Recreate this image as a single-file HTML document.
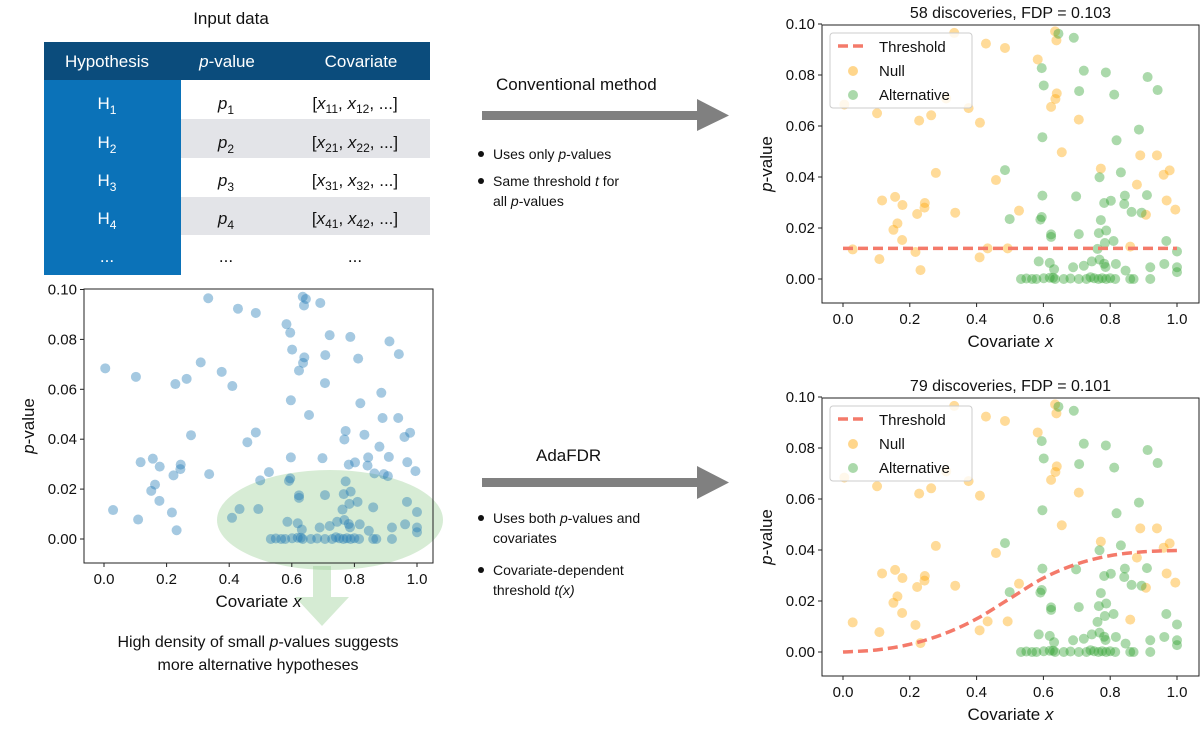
<!DOCTYPE html>
<html><head><meta charset="utf-8"><style>
body{margin:0;background:#fff;}
svg{display:block;font-family:"Liberation Sans",Arial,sans-serif;}
</style></head><body>
<svg id="fig" width="1200" height="731" viewBox="0 0 1200 731" xmlns="http://www.w3.org/2000/svg">
<!-- Input table -->
<g>
<text x="231" y="24" font-size="17" text-anchor="middle" fill="#111">Input data</text>
<rect x="44" y="42" width="386" height="38" fill="#0b4c7c"/>
<rect x="44" y="80" width="137" height="195" fill="#0b72b8"/>
<rect x="181" y="119" width="249" height="39" fill="#e3e4e8"/>
<rect x="181" y="197" width="249" height="38" fill="#e3e4e8"/>
<g font-size="17" fill="#fff" text-anchor="middle">
<text x="107" y="67">Hypothesis</text>
<text x="227" y="67"><tspan font-style="italic">p</tspan>-value</text>
<text x="361" y="67">Covariate</text>
<text x="107" y="109">H<tspan font-size="12" dy="5">1</tspan></text>
<text x="107" y="148">H<tspan font-size="12" dy="5">2</tspan></text>
<text x="107" y="186">H<tspan font-size="12" dy="5">3</tspan></text>
<text x="107" y="224">H<tspan font-size="12" dy="5">4</tspan></text>
<text x="107" y="262">...</text>
</g>
<g font-size="17" fill="#111" text-anchor="middle">
<text x="226" y="109"><tspan font-style="italic">p</tspan><tspan font-size="12" dy="5">1</tspan></text>
<text x="226" y="148"><tspan font-style="italic">p</tspan><tspan font-size="12" dy="5">2</tspan></text>
<text x="226" y="186"><tspan font-style="italic">p</tspan><tspan font-size="12" dy="5">3</tspan></text>
<text x="226" y="224"><tspan font-style="italic">p</tspan><tspan font-size="12" dy="5">4</tspan></text>
<text x="226" y="262">...</text>
<text x="355" y="109">[<tspan font-style="italic">x</tspan><tspan font-size="12" dy="4">11</tspan><tspan dy="-4">, </tspan><tspan font-style="italic">x</tspan><tspan font-size="12" dy="4">12</tspan><tspan dy="-4">, ...]</tspan></text>
<text x="355" y="148">[<tspan font-style="italic">x</tspan><tspan font-size="12" dy="4">21</tspan><tspan dy="-4">, </tspan><tspan font-style="italic">x</tspan><tspan font-size="12" dy="4">22</tspan><tspan dy="-4">, ...]</tspan></text>
<text x="355" y="186">[<tspan font-style="italic">x</tspan><tspan font-size="12" dy="4">31</tspan><tspan dy="-4">, </tspan><tspan font-style="italic">x</tspan><tspan font-size="12" dy="4">32</tspan><tspan dy="-4">, ...]</tspan></text>
<text x="355" y="224">[<tspan font-style="italic">x</tspan><tspan font-size="12" dy="4">41</tspan><tspan dy="-4">, </tspan><tspan font-style="italic">x</tspan><tspan font-size="12" dy="4">42</tspan><tspan dy="-4">, ...]</tspan></text>
<text x="355" y="262">...</text>
</g>
</g>

<!-- middle arrows -->
<g>
<text x="496" y="90" font-size="17" fill="#111">Conventional method</text>
<rect x="482" y="111" width="218" height="9" fill="#808080"/>
<polygon points="697,99 729,115.5 697,131" fill="#808080"/>
<g font-size="14" fill="#111">
<circle cx="481" cy="154" r="3" fill="#111"/><text x="493" y="159">Uses only <tspan font-style="italic">p</tspan>-values</text>
<circle cx="481" cy="181" r="3" fill="#111"/><text x="493" y="186">Same threshold <tspan font-style="italic">t</tspan> for</text>
<text x="493" y="206">all <tspan font-style="italic">p</tspan>-values</text>
</g>
</g>
<g>
<text x="536" y="461" font-size="17" fill="#111">AdaFDR</text>
<rect x="482" y="478" width="218" height="9" fill="#808080"/>
<polygon points="697,466 729,482.5 697,499" fill="#808080"/>
<g font-size="14" fill="#111">
<circle cx="481" cy="518" r="3" fill="#111"/><text x="493" y="523">Uses both <tspan font-style="italic">p</tspan>-values and</text>
<text x="493" y="543">covariates</text>
<circle cx="481" cy="570" r="3" fill="#111"/><text x="493" y="575">Covariate-dependent</text>
<text x="493" y="595">threshold <tspan font-style="italic">t(x)</tspan></text>
</g>
</g>

<!-- left plot extras -->
<ellipse cx="330" cy="520" rx="113" ry="50" fill="rgba(150,205,145,0.38)"/>
<polygon points="313,566 331,566 331,597 349,597 322,626 295,597 313,597" fill="rgba(150,205,145,0.4)"/>
<text x="258" y="647" font-size="16" text-anchor="middle" fill="#111">High density of small <tspan font-style="italic">p</tspan>-values suggests</text>
<text x="258" y="670" font-size="16" text-anchor="middle" fill="#111">more alternative hypotheses</text>

<g id="plots"></g>
</svg>
<script>
const nullX=[.004,.102,.228,.264,.410,.333,.428,.485,.583,.635,.639,.640,.636,.623,.706,.655,.772,.890,.940,.960,.978,.880,.969,.995,.907,.278,.458,.117,.156,.178,.245,.244,.222,.336,.527,.163,.151,.177,.029,.109,.217,.232,.409,.433,.493,.860,.376,.309];
const nullP=[.0684,.0650,.0621,.0642,.0613,.0965,.0923,.0906,.0861,.0971,.0936,.0728,.0706,.0675,.0625,.0497,.0433,.0485,.0485,.0409,.0426,.0370,.0308,.0272,.0252,.0416,.0388,.0308,.0322,.0290,.0298,.0280,.0255,.0260,.0268,.0218,.0193,.0153,.0116,.0078,.0106,.0035,.0085,.0120,.0120,.0127,.0670,.0708];
const altX=[.645,.691,.595,.601,.721,.787,.912,.942,.707,.812,.597,.819,.886,.485,.768,.832,.597,.698,.844,.782,.802,.842,.910,.864,.894,.499,.591,.595,.772,.623,.623,.706,.766,.788,.784,.810,.968,.762,1.0,.586,.619,.632,.689,.721,.745,.768,.782,.786,.817,.846,.920,.962,1.0,1.0,.860,.920,
.533,.549,.566,.579,.601,.619,.629,.635,.661,.681,.706,.729,.741,.752,.765,.776,.788,.800,.815,.870];
const altP=[.0962,.0946,.0827,.0759,.0817,.0810,.0792,.0741,.0737,.0723,.0556,.0544,.0586,.0427,.0399,.0418,.0327,.0324,.0327,.0298,.0307,.0294,.0329,.0263,.0260,.0235,.0233,.0243,.0231,.0175,.0165,.0176,.0180,.0190,.0141,.0149,.0149,.0118,.0108,.0069,.0063,.0038,.0046,.0052,.0069,.0076,.0060,.0047,.0059,.0033,.0046,.0059,.0046,.0027,0,0,
0,.0002,0,0,.0003,.0005,.0005,0,0,.0002,0,0,.0007,.0003,0,.0003,0,.0003,0,0];
const xTicks=[0,0.2,0.4,0.6,0.8,1.0];
const xTickLabels=["0.0","0.2","0.4","0.6","0.8","1.0"];
const yTicks=[0,0.02,0.04,0.06,0.08,0.10];
const yTickLabels=["0.00","0.02","0.04","0.06","0.08","0.10"];
const constThreshold=[0.012];
const adaGridX=[0,.1,.2,.3,.4,.5,.6,.7,.8,.9,1.0];
const adaThreshold=[0,.0008,.003,.007,.013,.021,.029,.0345,.0378,.0393,.0398];

const NS="http://www.w3.org/2000/svg";
const root=document.getElementById('plots');
function mk(tag,attrs,parent){const e=document.createElementNS(NS,tag);for(const k in attrs)e.setAttribute(k,attrs[k]);(parent||root).appendChild(e);return e;}
function txt(s,attrs,parent){const e=mk('text',attrs,parent);e.textContent=s;return e;}

function axes(o){
  const g=mk('g',{});
  
  
  const sx=v=>o.x0+v*o.xs, sy=v=>o.y0-v*o.ys;
  const frame=mk('rect',{x:o.bx,y:o.by,width:o.bw,height:o.bh,fill:'none',stroke:'#222','stroke-width':1},g);
  
  
  xTicks.forEach((t,i)=>{
    mk('line',{x1:sx(t),x2:sx(t),y1:o.by+o.bh,y2:o.by+o.bh+4,stroke:'#222'},g);
    const l=txt(xTickLabels[i],{x:sx(t),y:o.by+o.bh+21,'font-size':15,'text-anchor':'middle',fill:'#111'},g);
    
    
  });
  yTicks.forEach((t,i)=>{
    mk('line',{x1:o.bx-4,x2:o.bx,y1:sy(t),y2:sy(t),stroke:'#222'},g);
    const l=txt(yTickLabels[i],{x:o.bx-7,y:sy(t)+5,'font-size':15,'text-anchor':'end',fill:'#111'},g);
    
    
  });
  const xl=mk('text',{x:(o.bx+o.bw/2),y:o.by+o.bh+44,'font-size':17,'text-anchor':'middle',fill:'#111'},g);
  xl.innerHTML='Covariate <tspan font-style="italic">x</tspan>';
  
  
  const yl=mk('text',{x:0,y:0,'font-size':17,'text-anchor':'middle',fill:'#111',transform:`translate(${o.bx-50},${o.by+o.bh/2}) rotate(-90)`},g);
  yl.innerHTML='<tspan font-style="italic">p</tspan>-value';
  
  
  if(o.title){const t=txt(o.title,{x:o.bx+o.bw/2,y:o.by-7,'font-size':16,'text-anchor':'middle',fill:'#111'},g);
    
    }
  return {g,sx,sy};
}
function scatter(ax,xs,ps,color,name){
  xs.forEach((x,i)=>{
    const c=mk('circle',{cx:ax.sx(x),cy:ax.sy(ps[i]),r:5,fill:color},ax.g);
    
    
  });
}
function legend(ax,bx,by){
  const g=mk('g',{},ax.g);
  
  
  mk('rect',{x:bx,y:by,width:142,height:75,rx:3,fill:'rgba(255,255,255,0.8)',stroke:'#ccc'},g);
  mk('line',{x1:bx+8,x2:bx+38,y1:by+13,y2:by+13,stroke:'#f47a6a','stroke-width':3.5,'stroke-dasharray':'10 5'},g);
  mk('circle',{cx:bx+23,cy:by+38,r:5,fill:'rgba(255,165,0,0.45)'},g);
  mk('circle',{cx:bx+23,cy:by+62,r:5,fill:'rgba(44,160,44,0.4)'},g);
  const a=txt('Threshold',{x:bx+49,y:by+19,'font-size':15,fill:'#111'},g);
  
  
  const b=txt('Null',{x:bx+49,y:by+43,'font-size':15,fill:'#111'},g);
  
  
  const c=txt('Alternative',{x:bx+49,y:by+67,'font-size':15,fill:'#111'},g);
  
  
}

// left plot
const L=axes({name:'input-scatter-plot',bx:84,by:289,bw:349,bh:274,x0:104,xs:313,y0:539,ys:2495});
scatter(L,nullX,nullP,'rgba(31,119,180,0.4)','input-point');
scatter(L,altX,altP,'rgba(31,119,180,0.4)','input-point');

// top right
const T=axes({name:'conventional-plot',bx:822,by:25,bw:377,bh:278,x0:843,xs:334,y0:279,ys:2550,title:'58 discoveries, FDP = 0.103'});
scatter(T,nullX,nullP,'rgba(255,165,0,0.4)','null-point');
scatter(T,altX,altP,'rgba(44,160,44,0.4)','alternative-point');
const tl=mk('line',{x1:T.sx(0),x2:T.sx(1),y1:T.sy(constThreshold[0]),y2:T.sy(constThreshold[0]),stroke:'#f47a6a','stroke-width':3.5,'stroke-dasharray':'10 5'},T.g);


legend(T,830,33);

// bottom right
const B=axes({name:'adafdr-plot',bx:822,by:398,bw:377,bh:278,x0:843,xs:334,y0:652,ys:2550,title:'79 discoveries, FDP = 0.101'});
scatter(B,nullX,nullP,'rgba(255,165,0,0.4)','null-point');
scatter(B,altX,altP,'rgba(44,160,44,0.4)','alternative-point');
const pts=adaGridX.map((x,i)=>[B.sx(x),B.sy(adaThreshold[i])]);
let d='M'+pts[0][0]+','+pts[0][1];
for(let i=0;i<pts.length-1;i++){
  const p0=pts[Math.max(0,i-1)],p1=pts[i],p2=pts[i+1],p3=pts[Math.min(pts.length-1,i+2)];
  const c1=[p1[0]+(p2[0]-p0[0])/6,p1[1]+(p2[1]-p0[1])/6],c2=[p2[0]-(p3[0]-p1[0])/6,p2[1]-(p3[1]-p1[1])/6];
  d+=` C${c1[0]},${c1[1]} ${c2[0]},${c2[1]} ${p2[0]},${p2[1]}`;
}
const bl=mk('path',{d:d,fill:'none',stroke:'#f47a6a','stroke-width':3.5,'stroke-dasharray':'10 5'},B.g);


legend(B,830,406);
</script>
</body></html>
